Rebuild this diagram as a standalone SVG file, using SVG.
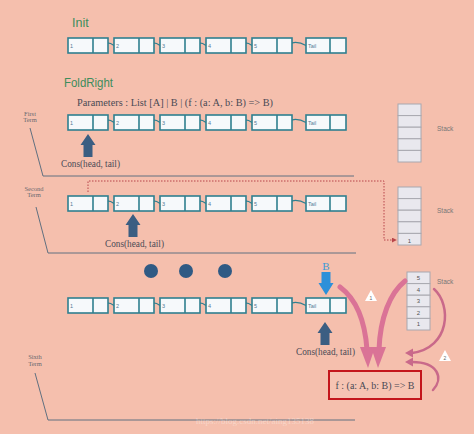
<svg xmlns="http://www.w3.org/2000/svg" xmlns:xlink="http://www.w3.org/1999/xlink" width="474" height="434" viewBox="0 0 474 434">
<style>
.box{fill:#f6f9fb;stroke:#2f7f8f;stroke-width:1.6}
.div{stroke:#2f7f8f;stroke-width:1.6}
.lnk{fill:none;stroke:#2f7f8f;stroke-width:1.2}
.val{font-family:"Liberation Sans",Arial,sans-serif;font-size:5.5px;fill:#557a95}
.ttl{font-family:"Liberation Sans",Arial,sans-serif;fill:#3d8d5c}
.ser{font-family:"Liberation Serif","Times New Roman",serif;fill:#4a4a55}
.term{font-family:"Liberation Serif","Times New Roman",serif;font-size:6.5px;fill:#6a6a70;text-anchor:middle}
.stk{fill:#e9e8ee;stroke:#a8a8b0;stroke-width:1}
.stklbl{font-family:"Liberation Sans",Arial,sans-serif;font-size:6.5px;fill:#777}
.stkv{font-family:"Liberation Sans",Arial,sans-serif;font-size:6px;fill:#555;text-anchor:middle}
.rule{fill:none;stroke:#607080;stroke-width:1}
.up{fill:#3b5e82}
.dot{fill:#2f5a84}
.pink{fill:none;stroke:#da7396;stroke-width:5;stroke-linecap:round}
.pinkh{fill:#da7396}
.pink2{fill:none;stroke:#c9698a;stroke-width:2.5;stroke-linecap:round}
.pink2h{fill:#c9698a}
.warn{fill:#ffffff}
.warnt{font-family:"Liberation Sans",Arial,sans-serif;font-size:5px;fill:#666;text-anchor:middle}
</style>
<defs>
<g id="cell">
<rect class="box" x="0" y="0" width="40" height="15"/>
<line class="div" x1="25" y1="0" x2="25" y2="15"/>
</g>
<g id="tailcell">
<rect class="box" x="0" y="0" width="40" height="15"/>
<line class="div" x1="24" y1="0" x2="24" y2="15"/>
</g>
<g id="links">
<path class="lnk" d="M100,8 Q107,2 114,7.5"/>
<path class="lnk" d="M146,8 Q153,2 160,7.5"/>
<path class="lnk" d="M192,8 Q199,2 206,7.5"/>
<path class="lnk" d="M238,8 Q245,2 252,7.5"/>
<path class="lnk" d="M284,8 Q295,1 306,7.5"/>
</g>
<g id="list">
<use xlink:href="#links"/>
<use xlink:href="#cell" x="68"/>
<use xlink:href="#cell" x="114"/>
<use xlink:href="#cell" x="160"/>
<use xlink:href="#cell" x="206"/>
<use xlink:href="#cell" x="252"/>
<use xlink:href="#tailcell" x="306"/>
<text class="val" x="70" y="10">1</text>
<text class="val" x="116" y="10">2</text>
<text class="val" x="162" y="10">3</text>
<text class="val" x="208" y="10">4</text>
<text class="val" x="254" y="10">5</text>
<text class="val" x="308" y="10">Tail</text>
</g>
<path id="uparrow" d="M0,0 L7.5,11 L4.5,11 L4.5,23 L-4.5,23 L-4.5,11 L-7.5,11 Z"/>
<g id="stack5">
<rect class="stk" x="0" y="0" width="23" height="11.6"/>
<rect class="stk" x="0" y="11.6" width="23" height="11.6"/>
<rect class="stk" x="0" y="23.2" width="23" height="11.6"/>
<rect class="stk" x="0" y="34.8" width="23" height="11.6"/>
<rect class="stk" x="0" y="46.4" width="23" height="11.6"/>
</g>
<marker id="redhead" viewBox="0 0 6 6" refX="5" refY="3" markerWidth="5" markerHeight="5" orient="auto">
<path d="M0,0 L6,3 L0,6 Z" fill="#b8454a"/>
</marker>
</defs>

<rect x="0" y="0" width="474" height="434" fill="#f5bfad"/>

<g id="title-init">
<text class="ttl" x="72" y="27" font-size="12.5">Init</text>
</g>
<g id="list-init">
<use xlink:href="#list" y="38"/>
</g>

<g id="title-foldright">
<text class="ttl" x="64" y="87" font-size="13" textLength="49" lengthAdjust="spacingAndGlyphs">FoldRight</text>
<text class="ser" x="77" y="106" font-size="10" textLength="196" lengthAdjust="spacingAndGlyphs">Parameters : List [A] | B | (f : (a: A, b: B) =&gt; B)</text>
</g>

<g id="first-term">
<text class="term" x="30" y="116">First</text>
<text class="term" x="30" y="122">Term</text>
<use xlink:href="#list" y="115"/>
<use class="up" xlink:href="#uparrow" x="88" y="134"/>
<text class="ser" x="61" y="167" font-size="9.5" textLength="59" lengthAdjust="spacingAndGlyphs">Cons(head, tail)</text>
<use xlink:href="#stack5" x="398" y="104"/>
<text class="stklbl" x="437" y="131">Stack</text>
</g>

<g id="second-term">
<text class="term" x="34" y="191">Second</text>
<text class="term" x="34" y="197">Term</text>
<use xlink:href="#list" y="196"/>
<use class="up" xlink:href="#uparrow" x="133" y="214"/>
<text class="ser" x="105" y="247" font-size="9.5" textLength="59" lengthAdjust="spacingAndGlyphs">Cons(head, tail)</text>
<use xlink:href="#stack5" x="398" y="187"/>
<text class="stkv" x="409.5" y="243">1</text>
<text class="stklbl" x="437" y="213">Stack</text>
</g>

<g id="ellipsis">
<circle class="dot" cx="151" cy="271" r="7"/>
<circle class="dot" cx="186" cy="271" r="7"/>
<circle class="dot" cx="225" cy="271" r="7"/>
</g>

<g id="sixth-term">
<text class="term" x="35" y="359">Sixth</text>
<text class="term" x="35" y="366">Term</text>
<use xlink:href="#list" y="298"/>
<text x="326" y="270" font-family="Liberation Serif, serif" font-size="11" fill="#3a9ad8" text-anchor="middle">B</text>
<path d="M321.5,272 L330.5,272 L330.5,283 L333.5,283 L326,295 L318.5,283 L321.5,283 Z" fill="#2d90d9"/>
<use class="up" xlink:href="#uparrow" x="325" y="322"/>
<text class="ser" x="296" y="355" font-size="9.5" textLength="59" lengthAdjust="spacingAndGlyphs">Cons(head, tail)</text>
<g id="stack-full">
<rect class="stk" x="407" y="272" width="23" height="11.6"/>
<rect class="stk" x="407" y="283.6" width="23" height="11.6"/>
<rect class="stk" x="407" y="295.2" width="23" height="11.6"/>
<rect class="stk" x="407" y="306.8" width="23" height="11.6"/>
<rect class="stk" x="407" y="318.4" width="23" height="11.6"/>
<text class="stkv" x="418.5" y="280">5</text>
<text class="stkv" x="418.5" y="291.6">4</text>
<text class="stkv" x="418.5" y="303.2">3</text>
<text class="stkv" x="418.5" y="314.8">2</text>
<text class="stkv" x="418.5" y="326.4">1</text>
</g>
<text class="stklbl" x="437" y="284">Stack</text>
</g>

<g id="func-box">
<rect x="329" y="371" width="92" height="28" fill="#f6c4b3" stroke="#c4161c" stroke-width="2"/>
<text class="ser" x="375" y="389" font-size="10" text-anchor="middle">f : (a: A, b: B) =&gt; B</text>
</g>

<g id="connectors">
<path class="rule" d="M30,128 L43,176 L354,176"/>
<path class="rule" d="M36,207 L48,253 L356,253"/>
<path class="rule" d="M35,373 L48,420 L355,420"/>
<path d="M88,192 L88,181 L384,181 L384,240 L396,240" fill="none" stroke="#b8454a" stroke-width="1" stroke-dasharray="1.5,1.5" marker-end="url(#redhead)"/>
<path class="pink" d="M340,287 C356,299 365,320 367,350"/>
<path class="pinkh" d="M360,347 L375,347 L368,368 Z"/>
<path class="pink" d="M405,281 C390,293 380,318 379,350"/>
<path class="pinkh" d="M371,347 L386,347 L378,368 Z"/>
<path class="pink2" d="M434,289 C452,305 450,348 412,353"/>
<path class="pink2h" d="M405,353 L413,348.5 L413,357.5 Z"/>
<path class="pink2" d="M433,390 C444,378 438,362 412,362"/>
<path class="pink2h" d="M405,362 L413,357.5 L413,366.5 Z"/>
<path class="warn" d="M371,290 L377,301 L365,301 Z"/>
<text class="warnt" x="371" y="300">1</text>
<path class="warn" d="M445,350 L451,361 L439,361 Z"/>
<text class="warnt" x="445" y="360">2</text>
</g>

<text x="255" y="424" font-family="Liberation Serif, serif" font-size="9" fill="#ffffff" fill-opacity="0.35" text-anchor="middle">https://blog.csdn.net/aing135138</text>
</svg>
